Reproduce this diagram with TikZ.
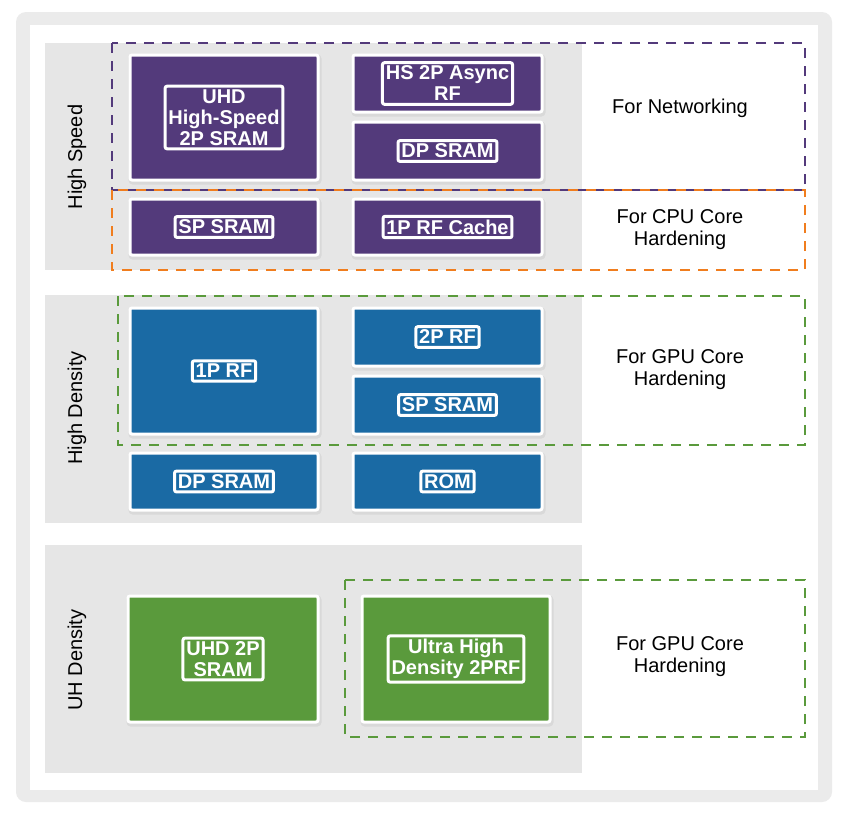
\documentclass[tikz,border=0pt]{standalone}
\usepackage{fontspec}
\setmainfont{Liberation Sans}
\begin{document}
\begin{tikzpicture}[x=1pt,y=-1pt,
  blk/.style={draw=white,line width=3pt,rounded corners=2pt,text=white,font=\fontsize{20}{21}\selectfont\bfseries,align=center,drop shadow/.style={}},
  lbl/.style={font=\fontsize{20}{22}\selectfont,align=center},
  side/.style={font=\fontsize{20}{22}\selectfont,rotate=90},
  dsh/.style={line width=2.5pt,dash pattern=on 10pt off 8pt}]
\definecolor{pur}{HTML}{533A7B}\definecolor{blu}{HTML}{1A6AA4}
\definecolor{grn}{HTML}{5A9A3C}\definecolor{org}{HTML}{F07D1E}
\definecolor{pan}{HTML}{E6E6E6}
\useasboundingbox (0,0) rectangle (850,825);
\fill[white] (0,0) rectangle (850,825);
\fill[rounded corners=10pt,pan!80] (16,12) rectangle (832,802);
\fill[white] (30,25) rectangle (818,790);
\fill[pan] (45,43) rectangle (582,270);
\fill[pan] (45,295) rectangle (582,523);
\fill[pan] (45,545) rectangle (582,773);
\newcommand{\bx}[6]{\filldraw[blk,fill=#5,draw=black!15,line width=5pt] (#1+1,#2+2) rectangle (#3+1,#4+2);
  \node[blk,fill=#5,minimum width=#3-#1,minimum height=#4-#2,inner sep=0pt] (#6) at ({(#1+#3)/2},{(#2+#4)/2}) {};}
\bx{130}{55}{318}{180}{pur}{a}\node[blk] at (a) {UHD\\High-Speed\\2P SRAM};
\bx{353}{55}{542}{112}{pur}{b}\node[blk] at (b) {HS 2P Async\\RF};
\bx{353}{122}{542}{180}{pur}{c}\node[blk] at (c) {DP SRAM};
\bx{130}{199}{318}{255}{pur}{d}\node[blk] at (d) {SP SRAM};
\bx{353}{199}{542}{255}{pur}{e}\node[blk] at (e) {1P RF Cache};
\bx{130}{308}{318}{434}{blu}{f}\node[blk] at (f) {1P RF};
\bx{353}{308}{542}{366}{blu}{g}\node[blk] at (g) {2P RF};
\bx{353}{376}{542}{434}{blu}{h}\node[blk] at (h) {SP SRAM};
\bx{130}{453}{318}{510}{blu}{i}\node[blk] at (i) {DP SRAM};
\bx{353}{453}{542}{510}{blu}{j}\node[blk] at (j) {ROM};
\bx{128}{596}{318}{722}{grn}{k}\node[blk] at (k) {UHD 2P\\SRAM};
\bx{362}{596}{550}{722}{grn}{l}\node[blk] at (l) {Ultra High\\Density 2PRF};
\draw[dsh,pur] (112,43) rectangle (805,190);
\draw[dsh,org] (112,190) rectangle (805,270);
\draw[dsh,grn] (118,296) rectangle (805,445);
\draw[dsh,grn] (345,580) rectangle (805,737);
\node[lbl] (n1) at (680,108) {For Networking};
\node[lbl] (n2) at (680,230) {For CPU Core\\Hardening};
\node[lbl] (n3) at (680,370) {For GPU Core\\Hardening};
\node[lbl] (n4) at (680,657) {For GPU Core\\Hardening};
\node[side] (s1) at (77,157) {High Speed};
\node[side] (s2) at (77,408) {High Density};
\node[side] (s3) at (77,660) {UH Density};
\end{tikzpicture}
\end{document}
